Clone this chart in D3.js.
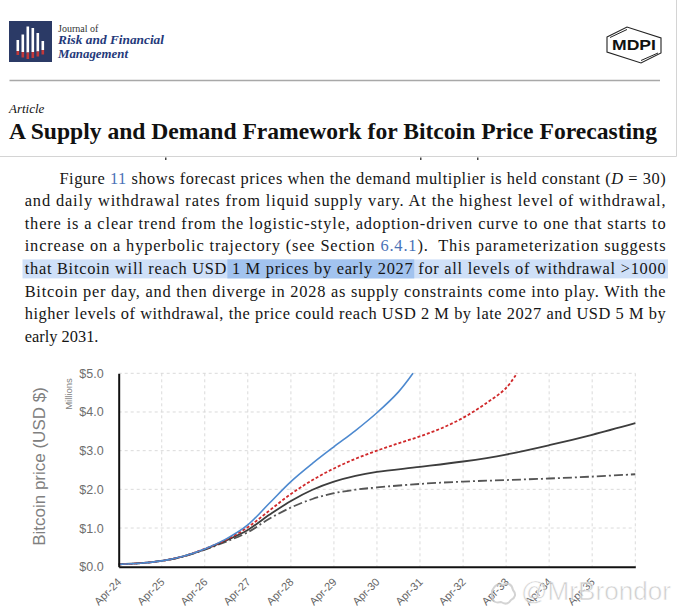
<!DOCTYPE html>
<html>
<head>
<meta charset="utf-8">
<script src="https://cdn.jsdelivr.net/npm/d3@7"></script>
<style>
  html, body { margin: 0; padding: 0; background: #fff; }
  svg { display: block; }
</style>
</head>
<body>
<div id="page"></div>
<script>
// ---- chart data (values in USD millions) ----
const xTickLabels = ['Apr-24', 'Apr-25', 'Apr-26', 'Apr-27', 'Apr-28', 'Apr-29',
  'Apr-30', 'Apr-31', 'Apr-32', 'Apr-33', 'Apr-34', 'Apr-35'];
const yTicks = [0, 1, 2, 3, 4, 5];

const blueDates = ['2024-04', '2024-10', '2025-04', '2025-10', '2026-04', '2026-10',
  '2027-04', '2027-10', '2028-04', '2028-10', '2029-04', '2029-10', '2030-04',
  '2030-10', '2031-02'];
const blueValues = [0.06, 0.09, 0.15, 0.27, 0.46, 0.72, 1.08, 1.64, 2.20, 2.67,
  3.10, 3.52, 3.98, 4.52, 5.0];

const redDates = ['2024-04', '2024-10', '2025-04', '2025-10', '2026-04', '2026-10',
  '2027-04', '2027-10', '2028-04', '2028-10', '2029-04', '2029-10', '2030-04',
  '2030-10', '2031-04', '2031-10', '2032-04', '2032-10', '2033-04', '2033-07'];
const redValues = [0.06, 0.09, 0.15, 0.27, 0.46, 0.70, 1.02, 1.45, 1.88, 2.24,
  2.54, 2.79, 3.00, 3.19, 3.37, 3.58, 3.85, 4.20, 4.62, 5.0];

const blackDates = ['2024-04', '2024-10', '2025-04', '2025-10', '2026-04', '2026-10',
  '2027-04', '2027-10', '2028-04', '2028-10', '2029-04', '2029-10', '2030-04',
  '2031-04', '2032-04', '2033-04', '2034-04', '2035-04', '2036-04'];
const blackValues = [0.06, 0.09, 0.15, 0.27, 0.45, 0.68, 0.95, 1.34, 1.70, 1.99,
  2.20, 2.35, 2.45, 2.58, 2.72, 2.90, 3.14, 3.41, 3.71];

const dashDotDates = blackDates;
const dashDotValues = [0.06, 0.09, 0.15, 0.26, 0.44, 0.65, 0.89, 1.24, 1.53, 1.75,
  1.90, 1.99, 2.05, 2.14, 2.20, 2.24, 2.28, 2.33, 2.39];

// ---- page text ----
const paragraphLines = [
  'Figure 11 shows forecast prices when the demand multiplier is held constant (D = 30)',
  'and daily withdrawal rates from liquid supply vary. At the highest level of withdrawal,',
  'there is a clear trend from the logistic-style, adoption-driven curve to one that starts to',
  'increase on a hyperbolic trajectory (see Section 6.4.1).  This parameterization suggests',
  'that Bitcoin will reach USD 1 M prices by early 2027 for all levels of withdrawal >1000',
  'Bitcoin per day, and then diverge in 2028 as supply constraints come into play. With the',
  'higher levels of withdrawal, the price could reach USD 2 M by late 2027 and USD 5 M by',
  'early 2031.',
];

const width = 680;
const height = 616;

const svg = d3
  .select('#page')
  .append('svg')
  .attr('width', width)
  .attr('height', height);

svg.append('rect').attr('width', width).attr('height', height).attr('fill', '#fff');

// ---- header ----
const header = svg.append('g').attr('class', 'header');

header.append('rect')
  .attr('x', 9).attr('y', 21).attr('width', 43).attr('height', 41)
  .attr('fill', '#2b3a66');

const logoBars = [
  { x: 16.5, top: 40, bottom: 55, red: 51 },
  { x: 21.5, top: 34.5, bottom: 57.5, red: 52 },
  { x: 26.5, top: 26.5, bottom: 59, red: 52.5 },
  { x: 31.5, top: 28, bottom: 58, red: 52 },
  { x: 36.5, top: 33, bottom: 56.5, red: 51.5 },
  { x: 41.5, top: 41, bottom: 54.5, red: 50 },
];
logoBars.forEach((b) => {
  header.append('rect').attr('x', b.x).attr('y', b.top)
    .attr('width', 2.6).attr('height', b.red - b.top).attr('fill', '#fff');
  header.append('rect').attr('x', b.x).attr('y', b.red)
    .attr('width', 2.6).attr('height', b.bottom - b.red).attr('fill', '#c0393b');
});

header.append('text')
  .attr('x', 58).attr('y', 31.5)
  .style('font-family', '"Liberation Serif", serif')
  .style('font-size', '10px')
  .attr('fill', '#333')
  .text('Journal of');

header.append('text')
  .attr('x', 58).attr('y', 44.3)
  .style('font-family', '"Liberation Serif", serif')
  .style('font-size', '12.8px')
  .style('font-style', 'italic')
  .style('font-weight', 'bold')
  .attr('fill', '#24397a')
  .attr('textLength', 106)
  .attr('lengthAdjust', 'spacingAndGlyphs')
  .text('Risk and Financial');

header.append('text')
  .attr('x', 58).attr('y', 58)
  .style('font-family', '"Liberation Serif", serif')
  .style('font-size', '12.8px')
  .style('font-style', 'italic')
  .style('font-weight', 'bold')
  .attr('fill', '#24397a')
  .attr('textLength', 70)
  .attr('lengthAdjust', 'spacingAndGlyphs')
  .text('Management');

// MDPI mark
header.append('path')
  .attr('d', 'M607,37 L627,27 L661,38 L661,53 L641,63 L607,52 Z')
  .attr('fill', 'none').attr('stroke', '#222').attr('stroke-width', 1.1);
header.append('path')
  .attr('d', 'M610,37.5 L627,29.5 M658,53 L641,60.5')
  .attr('fill', 'none').attr('stroke', '#222').attr('stroke-width', 1);
header.append('text')
  .attr('x', 634).attr('y', 49.5)
  .attr('text-anchor', 'middle')
  .style('font-family', '"Liberation Sans", Arial, sans-serif')
  .style('font-size', '14px')
  .style('font-weight', 'bold')
  .attr('fill', '#111')
  .attr('textLength', 44)
  .attr('lengthAdjust', 'spacingAndGlyphs')
  .text('MDPI');

header.append('line')
  .attr('x1', 9.5).attr('x2', 660).attr('y1', 80.5).attr('y2', 80.5)
  .attr('stroke', '#a8a8a8').attr('stroke-width', 1.6);

header.append('text')
  .attr('x', 9).attr('y', 112.5)
  .style('font-family', '"Liberation Serif", serif')
  .style('font-size', '13px')
  .style('font-style', 'italic')
  .attr('fill', '#111')
  .text('Article');

header.append('text')
  .attr('x', 9).attr('y', 138.5)
  .style('font-family', '"Liberation Serif", serif')
  .style('font-size', '22.5px')
  .style('font-weight', 'bold')
  .attr('fill', '#111')
  .attr('textLength', 648)
  .attr('lengthAdjust', 'spacingAndGlyphs')
  .text('A Supply and Demand Framework for Bitcoin Price Forecasting');

// panel edge of the cropped header
header.append('path')
  .attr('d', 'M0,156.5 L676.5,156.5 L676.5,0')
  .attr('fill', 'none').attr('stroke', '#d4d4d4').attr('stroke-width', 1);
[165, 420, 477].forEach((mx) => {
  header.append('rect').attr('x', mx).attr('y', 157.5)
    .attr('width', 1.5).attr('height', 2.5).attr('fill', '#444');
});

// ---- paragraph ----
const para = svg.append('g').attr('class', 'paragraph')
  .style('font-family', '"Liberation Serif", serif')
  .style('font-size', '16.4px')
  .attr('fill', '#151515');

const lineTop = 183.5;
const lineStep = 22.6;
const leftX = 24.7;
const rightX = 665.6;
const indentX = 59.4;

// highlight behind line 5
const hlLight = para.append('rect').attr('fill', '#cfe0f8');
const hlDark = para.append('rect').attr('fill', '#a2c3ef');

const lineNodes = [];
paragraphLines.forEach((line, i) => {
  const x0 = i === 0 ? indentX : leftX;
  const t = para.append('text')
    .attr('x', x0)
    .attr('y', lineTop + i * lineStep)
    .attr('xml:space', 'preserve');
  if (i < paragraphLines.length - 1) {
    t.attr('textLength', rightX - x0).attr('lengthAdjust', 'spacing');
  }
  if (i === 0) {
    t.append('tspan').text('Figure ');
    t.append('tspan').attr('fill', '#4a71b6').text('11');
    t.append('tspan').text(' shows forecast prices when the demand multiplier is held constant (');
    t.append('tspan').style('font-style', 'italic').text('D');
    t.append('tspan').text(' = 30)');
  } else if (i === 3) {
    t.append('tspan').text('increase on a hyperbolic trajectory (see Section ');
    t.append('tspan').attr('fill', '#4a71b6').text('6.4.1');
    t.append('tspan').text(').  This parameterization suggests');
  } else {
    t.text(line);
  }
  lineNodes.push(t.node());
});

const y5 = lineTop + 4 * lineStep;
hlLight.attr('x', 22.5).attr('y', y5 - 14.5).attr('width', 668 - 22.5).attr('height', 19);
{
  const node = lineNodes[4];
  const txt = paragraphLines[4];
  const iUsd = txt.indexOf('USD') + 2;
  const iEnd = txt.indexOf('2027') + 3;
  let xs = 227.5;
  let xe = 411;
  try {
    xs = node.getEndPositionOfChar(iUsd).x + 1;
    xe = node.getEndPositionOfChar(iEnd).x + 1.5;
  } catch (e) { /* keep defaults */ }
  hlDark.attr('x', xs).attr('y', y5 - 14.5).attr('width', xe - xs).attr('height', 19);
}

// ---- chart ----
const margin = { top: 373.3, left: 118.7, right: 680 - 635.3, bottom: 616 - 566.7 };
const graphWidth = width - margin.left - margin.right;
const graphHeight = height - margin.top - margin.bottom;

const parseMonth = d3.timeParse('%Y-%m');
const parseTick = d3.timeParse('%b-%y');

const x = d3.scaleTime()
  .domain([parseMonth('2024-04'), parseMonth('2036-04')])
  .range([0, graphWidth]);
const y = d3.scaleLinear().domain([0, 5]).range([graphHeight, 0]);

const graph = svg.append('g')
  .attr('transform', `translate(${margin.left}, ${margin.top})`);

const gridYears = d3.range(2025, 2037).map((yr) => parseMonth(`${yr}-04`));

graph.append('g').attr('class', 'grid-x')
  .selectAll('line')
  .data(gridYears)
  .enter()
  .append('line')
  .attr('x1', (d) => x(d)).attr('x2', (d) => x(d))
  .attr('y1', 0).attr('y2', graphHeight)
  .attr('stroke', '#d6d6d6').attr('stroke-width', 0.9)
  .attr('stroke-dasharray', '3,3');

graph.append('g').attr('class', 'grid-y')
  .selectAll('line')
  .data(yTicks.slice(1))
  .enter()
  .append('line')
  .attr('x1', 0).attr('x2', graphWidth)
  .attr('y1', (d) => y(d)).attr('y2', (d) => y(d))
  .attr('stroke', '#d6d6d6').attr('stroke-width', 0.9)
  .attr('stroke-dasharray', '3,3');

const series = [
  { dates: dashDotDates, values: dashDotValues, color: '#555', dash: '9,3,2,3', w: 1.8 },
  { dates: blackDates, values: blackValues, color: '#3d3d3d', dash: null, w: 1.8 },
  { dates: redDates, values: redValues, color: '#d0282a', dash: '3,2', w: 1.8 },
  { dates: blueDates, values: blueValues, color: '#4d89cf', dash: null, w: 1.6 },
];

const line = d3.line()
  .x((d) => x(d.date))
  .y((d) => y(d.value))
  .curve(d3.curveCatmullRom.alpha(0.5));

series.forEach((s) => {
  const pts = s.dates.map((d, i) => ({ date: parseMonth(d), value: s.values[i] }));
  graph.append('path')
    .datum(pts)
    .attr('d', line)
    .attr('fill', 'none')
    .attr('stroke', s.color)
    .attr('stroke-width', s.w)
    .attr('stroke-dasharray', s.dash);
});

// axes
const yAxis = d3.axisLeft(y)
  .tickValues(yTicks)
  .tickFormat((d) => `$${d.toFixed(1)}`)
  .tickSize(0)
  .tickSizeOuter(0)
  .tickPadding(15);

const yAxisGroup = graph.append('g').call(yAxis);
yAxisGroup.select('.domain').attr('stroke', '#111').attr('stroke-width', 2);
yAxisGroup.selectAll('text')
  .style('font-family', '"Liberation Sans", Arial, sans-serif')
  .style('font-size', '12.5px')
  .attr('fill', '#6e6e6e');

const xAxis = d3.axisBottom(x)
  .tickValues(xTickLabels.map(parseTick))
  .tickFormat(d3.timeFormat('%b-%y'))
  .tickSize(0)
  .tickSizeOuter(0);

const xAxisGroup = graph.append('g')
  .attr('transform', `translate(0, ${graphHeight})`)
  .call(xAxis);
xAxisGroup.select('.domain').attr('stroke', '#111').attr('stroke-width', 2);
xAxisGroup.selectAll('text')
  .attr('x', 0).attr('y', 0).attr('dy', 0)
  .attr('text-anchor', 'end')
  .attr('transform', 'translate(3, 16) rotate(-45)')
  .style('font-family', '"Liberation Sans", Arial, sans-serif')
  .style('font-size', '11px')
  .attr('fill', '#666');

// axis titles
svg.append('text')
  .attr('transform', `translate(45, ${466.5}) rotate(-90)`)
  .attr('text-anchor', 'middle')
  .style('font-family', '"Liberation Sans", Arial, sans-serif')
  .style('font-size', '17px')
  .attr('fill', '#808080')
  .text('Bitcoin price (USD $)');

svg.append('text')
  .attr('transform', `translate(72, ${394}) rotate(-90)`)
  .attr('text-anchor', 'middle')
  .style('font-family', '"Liberation Sans", Arial, sans-serif')
  .style('font-size', '9.5px')
  .attr('fill', '#808080')
  .text('Millions');

// watermark
const wm = svg.append('g').attr('opacity', 0.8);
wm.append('path')
  .attr('d', 'M492,591 q4,-9 11,-6 q8,-4 10,5 q5,6 -2,10 q-4,6 -10,2 q-8,2 -9,-5 z')
  .attr('fill', 'none').attr('stroke', '#c9c9c9').attr('stroke-width', 2);
wm.append('text')
  .attr('x', 521).attr('y', 600)
  .style('font-family', '"Liberation Sans", Arial, sans-serif')
  .style('font-size', '25px')
  .attr('fill', '#c4c4c4')
  .attr('stroke', '#fff').attr('stroke-width', 0.6)
  .attr('textLength', 150)
  .attr('lengthAdjust', 'spacingAndGlyphs')
  .text('@MrBrondor');
</script>
</body>
</html>
